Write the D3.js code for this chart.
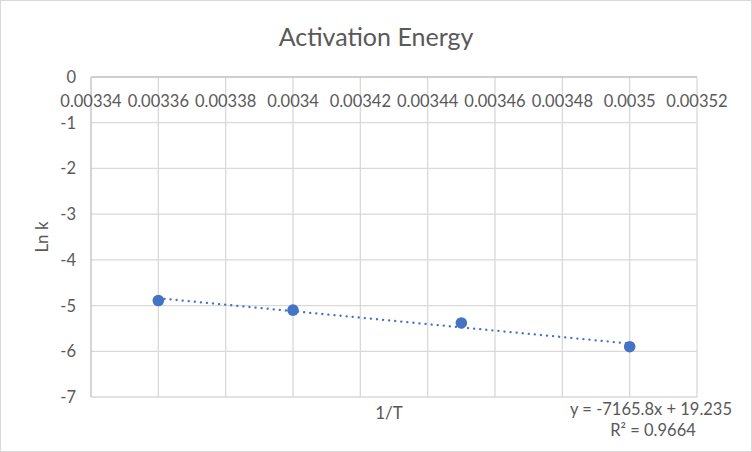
<!DOCTYPE html>
<html>
<head>
<meta charset="utf-8">
<script src="https://cdn.jsdelivr.net/npm/d3@7"></script>
<style>
  body { margin: 0; background: #fff; }
  text { font-family: Lato, "Open Sans", sans-serif; fill: #595959; }
</style>
</head>
<body>
<div id="chart"></div>
<script>
// data
var invT = [0.00336, 0.0034, 0.00345, 0.0035];
var lnK = [-4.89, -5.1, -5.38, -5.9];
var xTicks = [0.00334, 0.00336, 0.00338, 0.0034, 0.00342, 0.00344, 0.00346, 0.00348, 0.0035, 0.00352];
var yTicks = [0, -1, -2, -3, -4, -5, -6, -7];
var eqText = "y = -7165.8x + 19.235";
var r2Text = "R² = 0.9664";

var W = 752, H = 452;
var svg = d3.select('#chart').append('svg')
  .attr('width', W).attr('height', H);

svg.append('rect')
  .attr('x', 0.5).attr('y', 0.5)
  .attr('width', W - 1).attr('height', H - 1)
  .attr('fill', '#fff').attr('stroke', '#d9d9d9');

var x = d3.scaleLinear().domain([0.00334, 0.00352]).range([91, 697]);
var y = d3.scaleLinear().domain([-7, 0]).range([397, 77]);

// gridlines
svg.append('g').selectAll('line')
  .data(xTicks.slice(1))
  .enter().append('line')
  .attr('x1', d => x(d)).attr('x2', d => x(d))
  .attr('y1', y(0)).attr('y2', y(-7))
  .attr('stroke', '#d9d9d9').attr('stroke-width', 1.3);

svg.append('g').selectAll('line')
  .data(yTicks.slice(1))
  .enter().append('line')
  .attr('x1', x(0.00334)).attr('x2', x(0.00352))
  .attr('y1', d => y(d)).attr('y2', d => y(d))
  .attr('stroke', '#d9d9d9').attr('stroke-width', 1.3);

// axis lines (x axis crosses at 0)
svg.append('line')
  .attr('x1', x(0.00334)).attr('x2', x(0.00352))
  .attr('y1', y(0)).attr('y2', y(0))
  .attr('stroke', '#bfbfbf').attr('stroke-width', 1.3);
svg.append('line')
  .attr('x1', x(0.00334)).attr('x2', x(0.00334))
  .attr('y1', y(0)).attr('y2', y(-7))
  .attr('stroke', '#bfbfbf').attr('stroke-width', 1.3);

// tick labels
svg.append('g').selectAll('text')
  .data(xTicks)
  .enter().append('text')
  .attr('x', d => x(d)).attr('y', y(0) + 30)
  .attr('text-anchor', 'middle')
  .style('font-size', '16.5px')
  .text(d => String(+d.toPrecision(6)));

svg.append('g').selectAll('text')
  .data(yTicks)
  .enter().append('text')
  .attr('x', 76).attr('y', d => y(d) + 6)
  .attr('text-anchor', 'end')
  .style('font-size', '16.5px')
  .text(d => d);

// titles
svg.append('text')
  .attr('x', 376).attr('y', 46)
  .attr('text-anchor', 'middle')
  .style('font-size', '25px')
  .text('Activation Energy');

svg.append('text')
  .attr('transform', 'translate(48,237) rotate(-90)')
  .attr('text-anchor', 'middle')
  .style('font-size', '17px')
  .text('Ln k');

svg.append('text')
  .attr('x', 389).attr('y', 419)
  .attr('text-anchor', 'middle')
  .style('font-size', '17px')
  .text('1/T');

// linear trendline, least squares from the points
var mx = d3.mean(invT), my = d3.mean(lnK);
var sxy = d3.sum(invT, (d, i) => (d - mx) * (lnK[i] - my));
var sxx = d3.sum(invT, d => (d - mx) * (d - mx));
var slope = sxy / sxx, icpt = my - slope * mx;
var ext = d3.extent(invT);

svg.append('line')
  .attr('x1', x(ext[0])).attr('y1', y(slope * ext[0] + icpt))
  .attr('x2', x(ext[1])).attr('y2', y(slope * ext[1] + icpt))
  .attr('stroke', '#4472c4').attr('stroke-width', 2.3)
  .attr('stroke-linecap', 'round')
  .attr('stroke-dasharray', '0.1 6');

// points
svg.append('g').selectAll('circle')
  .data(invT)
  .enter().append('circle')
  .attr('cx', d => x(d)).attr('cy', (d, i) => y(lnK[i]))
  .attr('r', 5.8)
  .attr('fill', '#4472c4');

// trendline label
svg.append('text')
  .attr('x', 732).attr('y', 415)
  .attr('text-anchor', 'end')
  .style('font-size', '16.5px')
  .text(eqText);
svg.append('text')
  .attr('x', 653).attr('y', 436)
  .attr('text-anchor', 'middle')
  .style('font-size', '16.5px')
  .text(r2Text);
</script>
</body>
</html>
